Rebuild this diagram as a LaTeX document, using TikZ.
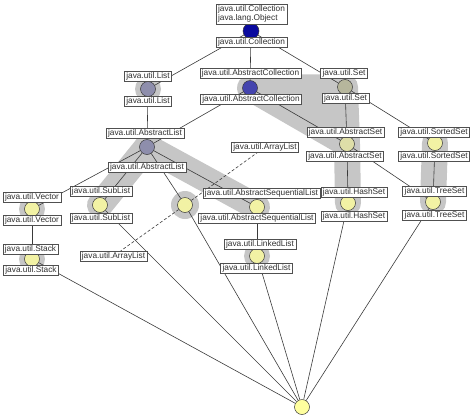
\documentclass[tikz,border=0pt]{standalone}
\usepackage{fontspec}
\setmainfont{Liberation Sans}
\definecolor{NavyTop}{HTML}{0A0A9E}
\definecolor{BlueMid}{HTML}{4444AE}
\definecolor{GreyBlue}{HTML}{8E8EAC}
\definecolor{GreyOlive}{HTML}{B6B69C}
\definecolor{PaleOlive}{HTML}{DEDEA8}
\definecolor{PaleYellow}{HTML}{F2F2A4}
\definecolor{BotYellow}{HTML}{FFFF9E}
\definecolor{Halo}{HTML}{C6C6C6}
\definecolor{Edge}{HTML}{3A3A3A}
\definecolor{BoxLine}{HTML}{505050}
\definecolor{TextDark}{HTML}{303030}
\pgfdeclarelayer{halo}
\pgfdeclarelayer{edges}
\pgfsetlayers{halo,edges,main}
\tikzset{
    lbl/.style={rectangle, draw=BoxLine, fill=white, text=TextDark, line width=0.5pt, inner xsep=2pt, inner ysep=1pt, text height=6pt, text depth=1.8pt, font=\fontsize{8.3}{9.6}\selectfont},
    lblwide/.style={rectangle, draw=BoxLine, fill=white, text=TextDark, line width=0.5pt, inner xsep=2pt, inner ysep=1.5pt, align=left, font=\fontsize{8.3}{9.6}\selectfont},
    concept/.style={circle, draw=Edge, line width=0.5pt, minimum size=15pt, inner sep=0pt},
    edge/.style={draw=Edge, line width=0.6pt},
    labellink/.style={edge, dashed, dash pattern=on 3pt off 2pt},
    halo/.style={draw=Halo, line width=26pt, line cap=round, line join=round},
}
\begin{document}
\begin{tikzpicture}[x=1pt, y=-1pt]
    \useasboundingbox (0,0) rectangle (474,416);

    % Concetti (cerchi)
    \node[concept, fill=NavyTop, minimum size=16pt] (cTop) at (251,31) {};
    \node[concept, fill=GreyBlue] (cList) at (148,89) {};
    \node[concept, fill=BlueMid] (cACol) at (250,88) {};
    \node[concept, fill=GreyOlive] (cSet) at (345,87) {};
    \node[concept, fill=GreyBlue] (cAList) at (147,147) {};
    \node[concept, fill=PaleOlive] (cASet) at (347,144) {};
    \node[concept, fill=PaleYellow] (cSSet) at (435,143) {};
    \node[concept, fill=PaleYellow] (cVec) at (32,209) {};
    \node[concept, fill=PaleYellow] (cSub) at (100,205) {};
    \node[concept, fill=PaleYellow] (cArr) at (185,205) {};
    \node[concept, fill=PaleYellow] (cASL) at (257,207) {};
    \node[concept, fill=PaleYellow] (cHash) at (348,203) {};
    \node[concept, fill=PaleYellow] (cTree) at (433,202) {};
    \node[concept, fill=PaleYellow] (cStack) at (32,259) {};
    \node[concept, fill=PaleYellow] (cLL) at (257,256) {};
    \node[concept, fill=BotYellow] (cBot) at (302,407) {};

    % Etichette
    \node[lblwide] (objTop) at (251.5,14) {java.util.Collection\\java.lang.Object};
    \node[lbl] (collB) at (251.5,42.5) {java.util.Collection};
    \node[lbl] (listA) at (148,76.5) {java.util.List};
    \node[lbl] (listB) at (148,101) {java.util.List};
    \node[lbl] (acolA) at (250.5,73.5) {java.util.AbstractCollection};
    \node[lbl] (acolB) at (251,99.5) {java.util.AbstractCollection};
    \node[lbl] (setA) at (344,73.5) {java.util.Set};
    \node[lbl] (setB) at (345.5,98) {java.util.Set};
    \node[lbl] (alistA) at (145,133) {java.util.AbstractList};
    \node[lbl] (alistB) at (147,167) {java.util.AbstractList};
    \node[lbl] (asetA) at (345.5,132.5) {java.util.AbstractSet};
    \node[lbl] (asetB) at (345,156.5) {java.util.AbstractSet};
    \node[lbl] (ssetA) at (434,132.5) {java.util.SortedSet};
    \node[lbl] (ssetB) at (434,156) {java.util.SortedSet};
    \node[lbl] (arrA) at (265,147) {java.util.ArrayList};
    \node[lbl] (arrB) at (113.5,256) {java.util.ArrayList};
    \node[lbl] (vecA) at (32,197) {java.util.Vector};
    \node[lbl] (vecB) at (32,220) {java.util.Vector};
    \node[lbl] (subA) at (101,191) {java.util.SubList};
    \node[lbl] (subB) at (101,218.5) {java.util.SubList};
    \node[lbl] (aslA) at (261.5,193) {java.util.AbstractSequentialList};
    \node[lbl] (aslB) at (257,218.5) {java.util.AbstractSequentialList};
    \node[lbl] (hashA) at (354,192) {java.util.HashSet};
    \node[lbl] (hashB) at (354,216.5) {java.util.HashSet};
    \node[lbl] (treeA) at (434.5,191) {java.util.TreeSet};
    \node[lbl] (treeB) at (434.5,215) {java.util.TreeSet};
    \node[lbl] (stackA) at (30.5,249.5) {java.util.Stack};
    \node[lbl] (stackB) at (31,270.5) {java.util.Stack};
    \node[lbl] (llA) at (260,244) {java.util.LinkedList};
    \node[lbl] (llB) at (256.5,268.5) {java.util.LinkedList};

    % Archi del reticolo
    \begin{pgfonlayer}{edges}
        \draw[edge] (cTop) -- (cList);
        \draw[edge] (cTop) -- (cACol);
        \draw[edge] (cTop) -- (cSet);
        \draw[edge] (cList) -- (cAList);
        \draw[edge] (cACol) -- (cAList);
        \draw[edge] (cACol) -- (cASet);
        \draw[edge] (cSet) -- (cASet);
        \draw[edge] (cSet) -- (cSSet);
        \draw[edge] (cAList) -- (cVec);
        \draw[edge] (cAList) -- (cSub);
        \draw[edge] (cAList) -- (cArr);
        \draw[edge] (cAList) -- (cASL);
        \draw[edge] (cASet) -- (cHash);
        \draw[edge] (cASet) -- (cTree);
        \draw[edge] (cSSet) -- (cTree);
        \draw[edge] (cVec) -- (cStack);
        \draw[edge] (cASL) -- (cLL);
        \foreach \c in {cStack, cSub, cArr, cLL, cHash, cTree}
            \draw[edge] (\c) -- (cBot);
        % etichette lontane
        \draw[labellink] (cArr) -- (arrA);
        \draw[labellink] (cArr) -- (arrB);
    \end{pgfonlayer}

    % Evidenziazione grigia
    \begin{pgfonlayer}{halo}
        \draw[halo, fill=Halo] (cACol.center) -- (cSet.center) -- (cASet.center) -- cycle;
        \draw[halo] (cASet.center) -- (cHash.center);
        \draw[halo] (cSSet.center) -- (cTree.center);
        \draw[halo] (cAList.center) -- (cSub.center);
        \draw[halo] (cAList.center) -- (cASL.center);
        \fill[Halo] (cList) circle (13pt);
        \fill[Halo] (cArr) circle (14pt);
        \fill[Halo] (cVec) circle (13pt);
        \fill[Halo] (cStack) circle (13pt);
        \fill[Halo] (cLL) circle (13pt);
    \end{pgfonlayer}
\end{tikzpicture}
\end{document}
